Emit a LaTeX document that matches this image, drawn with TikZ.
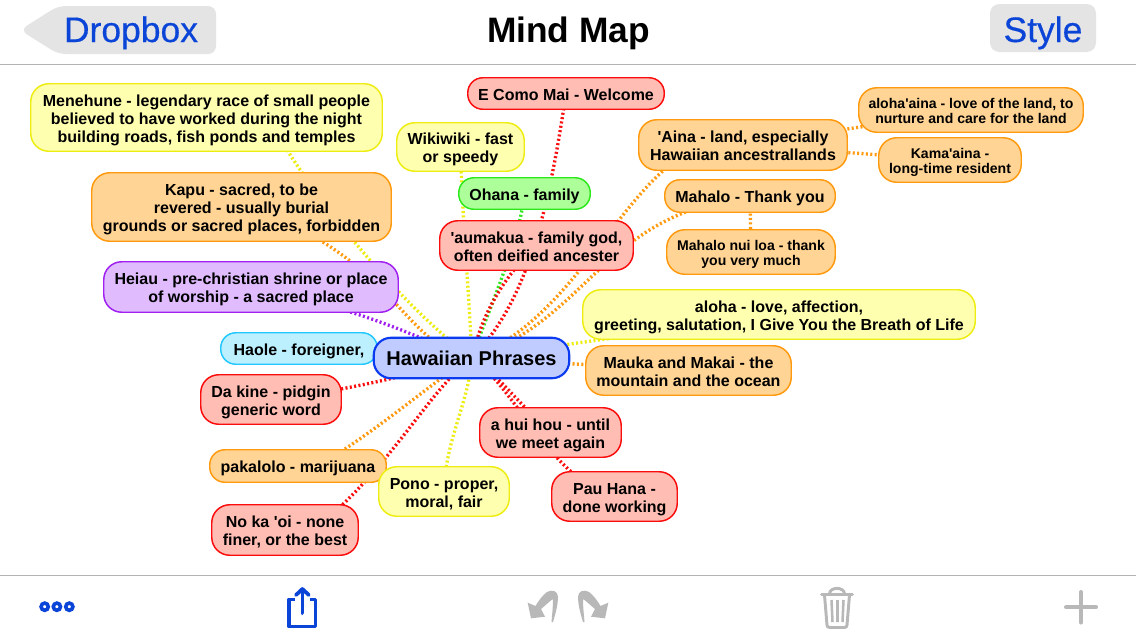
\documentclass[tikz,border=0pt]{standalone}
\usepackage{fontspec}
\setmainfont[Ligatures=TeXOff]{Liberation Sans}
\newfontfamily\barfont[Ligatures=TeXOff,FakeBold=0.4]{Liberation Sans}
\usetikzlibrary{calc}
\pgfdeclarelayer{bg}\pgfsetlayers{bg,main}
\definecolor{rs}{HTML}{FB0D0D}\definecolor{rf}{HTML}{FFBDB3}
\definecolor{os}{HTML}{FF9A0F}\definecolor{of}{HTML}{FFD494}
\definecolor{ys}{HTML}{EDED12}\definecolor{yf}{HTML}{FFFFB0}
\definecolor{gs}{HTML}{2BE81A}\definecolor{gf}{HTML}{ADFF99}
\definecolor{ps}{HTML}{A020F0}\definecolor{pf}{HTML}{E0BCFF}
\definecolor{cs}{HTML}{20C8FF}\definecolor{cf}{HTML}{BDF0FF}
\definecolor{bs}{HTML}{0B3BF0}\definecolor{bf}{HTML}{C0CCFF}
\definecolor{barblue}{HTML}{0A45D8}\definecolor{bargray}{HTML}{B8B8B8}\definecolor{btn}{HTML}{E4E4E4}\definecolor{rulegray}{HTML}{B4B4B4}
\let\mapbegin\relax\let\mapend\relax
\tikzset{x=0.75pt,y=-0.75pt,
 nudge/.code 2 args={\def\mapbegin{\rule{0pt}{0pt}\\[#1]}\def\mapend{\rule[#2]{0pt}{-#2}}},
 nonudge/.code={\let\mapbegin\relax\let\mapend\relax},
 mm/.style={draw,rounded corners=13.5pt,line width=1.1pt,inner sep=0pt,outer sep=0pt,align=center,text=black,font=\fontsize{12}{13.5}\bfseries\selectfont,nudge={-0.7pt}{-3pt}},
 smalltext/.style={font=\fontsize{10.55}{11.6}\bfseries\selectfont,nudge={-0.1pt}{-2.7pt}},
 oneline/.style={rounded corners=11.3pt,nonudge,text height=11pt,text depth=1.2pt},
 nred/.style={mm,draw=rs,fill=rf},norange/.style={mm,draw=os,fill=of},nyellow/.style={mm,draw=ys,fill=yf},
 ngreen/.style={mm,draw=gs,fill=gf},npurple/.style={mm,draw=ps,fill=pf},ncyan/.style={mm,draw=cs,fill=cf},
 nhub/.style={mm,draw=bs,fill=bf,line width=1.6pt,rounded corners=13pt,nonudge,font=\fontsize{15}{17}\bfseries\selectfont},
 link/.style={line width=2.5pt,dash pattern=on 1.5pt off 1.8pt},
 barlabel/.style={inner sep=0pt,anchor=base,text=barblue,font=\fontsize{26.6}{28}\barfont},
 titlelabel/.style={inner sep=0pt,anchor=base,text=black,font=\fontsize{26.5}{28}\bfseries\selectfont},
 grayicon/.style={draw=bargray,line width=2.2pt,line cap=round,line join=round},
 blueicon/.style={draw=barblue,line width=2.8pt,line cap=round,line join=round},
}
\newcommand{\mapbox}[7]{\node[#1,minimum width={(#5-#3-1.5)*0.75pt},minimum height={(#6-#4-1.5)*0.75pt}] (#2) at ({(#3+#5)/2},{(#4+#6)/2}) {\mapbegin #7\mapend};}
\begin{document}
\begin{tikzpicture}
\useasboundingbox (0,0) rectangle (1136,640);
\begin{pgfonlayer}{bg}\fill[white] (0,0) rectangle (1136,640);\end{pgfonlayer}
% top bar
\fill[btn,rounded corners=6pt] (216,6) -- (216,54) -- (58,54) -- (20,30) -- (58,6) -- cycle;
\fill[btn,rounded corners=7pt] (990,4) rectangle (1096,52);
\node[barlabel] (dropbox) at (131,42) {Dropbox};
\node[barlabel] (style) at (1043,42) {Style};
\node[titlelabel] (title) at (568.5,42) {Mind Map};
\draw[rulegray,line width=0.75pt] (0,64.7) -- (1136,64.7);
\draw[rulegray,line width=0.75pt] (0,575) -- (1136,575);
% nodes
\mapbox{nred,oneline}{ecomo}{467}{77}{665}{110}{E Como Mai - Welcome}
\mapbox{nyellow}{mene}{30}{83}{383}{152}{Menehune - legendary race of small people\\believed to have worked during the night\\building roads, fish ponds and temples}
\mapbox{nyellow}{wiki}{396}{122}{525}{172}{Wikiwiki - fast\\or speedy}
\mapbox{ngreen,oneline}{ohana}{458}{177}{591}{210}{Ohana - family}
\mapbox{nred}{aumakua}{439}{220}{634}{271}{'aumakua - family god,\\often deified ancester}
\mapbox{norange}{kapu}{91}{172}{392}{242}{Kapu - sacred, to be\\revered - usually burial\\grounds or sacred places, forbidden}
\mapbox{npurple}{heiau}{103}{261}{399}{313}{Heiau - pre-christian shrine or place\\of worship - a sacred place}
\mapbox{ncyan,oneline}{haole}{220}{332}{378}{365}{Haole - foreigner,}
\mapbox{nhub}{hub}{373}{337}{570}{379}{Hawaiian Phrases}
\mapbox{nred}{dakine}{200}{374}{342}{425}{Da kine - pidgin\\generic word}
\mapbox{norange,oneline}{pakalolo}{209}{449}{387}{483}{pakalolo - marijuana}
\mapbox{nred}{noka}{211}{504}{359}{556}{No ka 'oi - none\\finer, or the best}
\mapbox{nyellow}{pono}{378}{466}{510}{517}{Pono - proper,\\moral, fair}
\mapbox{nred}{ahui}{479}{407}{622}{458}{a hui hou - until\\we meet again}
\mapbox{nred}{pau}{551}{471}{678}{522}{Pau Hana -\\done working}
\mapbox{norange}{mauka}{585}{345}{792}{396}{Mauka and Makai - the\\mountain and the ocean}
\mapbox{nyellow}{aloha}{582}{289}{976}{340}{aloha - love, affection,\\greeting, salutation, I Give You the Breath of Life}
\mapbox{norange}{aina}{638}{119}{848}{171}{'Aina - land, especially\\Hawaiian ancestrallands}
\mapbox{norange,smalltext}{alohaaina}{858}{87}{1084}{133}{aloha'aina - love of the land, to\\nurture and care for the land}
\mapbox{norange,smalltext}{kama}{878}{137}{1022}{183}{Kama'aina -\\long-time resident}
\mapbox{norange,oneline}{mahalo}{664}{179}{836}{213}{Mahalo - Thank you}
\mapbox{norange,smalltext}{nui}{666}{229}{836}{275}{Mahalo nui loa - thank\\you very much}
% connectors
\begin{pgfonlayer}{bg}
\draw[link,os] (hub.center) .. controls (405,350) and (392,250) .. (kapu.center);
\draw[link,ys] (hub.center) .. controls (420,320) and (340,235) .. ($(mene.south)+(75,-10)$);
\draw[link,ps] (hub.center) .. controls (415,338) and (375,312) .. (heiau.center);
\draw[link,cs] (hub.center) -- (haole.center);
\draw[link,rs] (hub.center) .. controls (410,375) and (340,392) .. (dakine.center);
\draw[link,os] (hub.center) .. controls (445,372) and (385,425) .. ($(pakalolo.north)+(30,10)$);
\draw[link,rs] (hub.center) .. controls (430,390) and (395,460) .. ($(noka.north)+(40,16)$);
\draw[link,ys] (hub.center) .. controls (470,400) and (445,440) .. (pono.center);
\draw[link,rs] (hub.center) .. controls (488,364) and (520,405) .. (ahui.center);
\draw[link,rs] (hub.center) .. controls (512,382) and (550,480) .. (pau.center);
\draw[link,os] (hub.center) -- (mauka.center);
\draw[link,ys] (hub.center) -- (aloha.center);
\draw[link,ys] (hub.center) .. controls (470,300) and (462,220) .. (wiki.center);
\draw[link,gs] (hub.center) .. controls (485,320) and (520,240) .. (ohana.center);
\draw[link,rs] (hub.center) .. controls (480,325) and (495,285) .. (aumakua.center);
\draw[link,rs] (hub.center) .. controls (530,300) and (550,200) .. (ecomo.center);
\draw[link,os] (hub.center) .. controls (596,312) and (639,121) .. (aina.center);
\draw[link,os] (hub.center) .. controls (590,320) and (600,215) .. (mahalo.center);
\draw[link,os] (aina.center) -- (alohaaina.center);
\draw[link,os] (aina.center) -- (kama.center);
\draw[link,os] (mahalo.center) -- (nui.center);
\end{pgfonlayer}
% bottom bar icons
\foreach \cx in {44.7,56.9,69.3} \draw[barblue,line width=2.7pt] (\cx,606.7) circle[radius=3.6];
\draw[blueicon,line cap=butt] (295,599.4) -- (289,599.4) -- (289,626.6) -- (315.6,626.6) -- (315.6,599.4) -- (309.5,599.4);
\draw[blueicon] (302.4,613) -- (302.4,589);
\draw[blueicon] (296,595) -- (302.4,589) -- (308.8,595);
\foreach \mir in {1,-1}{
\begin{scope}[shift={(568,0)},xscale=\mir,shift={(-568,0)}]
\fill[bargray] (527.7,602.7) -- (531,618.3) -- (545,616.7) -- (541,609) .. controls (547,604) and (551,600) .. (553,599) .. controls (553,608) and (552,615) .. (551.5,622) -- (553,622) .. controls (556,612) and (558,604) .. (558,597) .. controls (558,591) and (552,589) .. (547,592) .. controls (543,595) and (539,600) .. (535.5,606) -- cycle;
\end{scope}}
\draw[grayicon] (821.5,594.5) -- (852.5,594.5);
\draw[grayicon] (829.5,594) .. controls (829.5,586.5) and (844.5,586.5) .. (844.5,594);
\draw[grayicon] (824.5,595) -- (827,625) .. controls (827.2,627) and (828,627.5) .. (830,627.5) -- (844,627.5) .. controls (846,627.5) and (846.8,627) .. (847,625) -- (849.5,595);
\draw[grayicon,line width=1.9pt,line cap=butt] (831.5,600) -- (832.5,622) (837.5,600) -- (837.5,622) (843.5,600) -- (842.5,622);
\draw[grayicon,line width=3pt,line cap=round] (1066,607.3) -- (1096,607.3) (1081,592) -- (1081,622.5);
\end{tikzpicture}
\end{document}
